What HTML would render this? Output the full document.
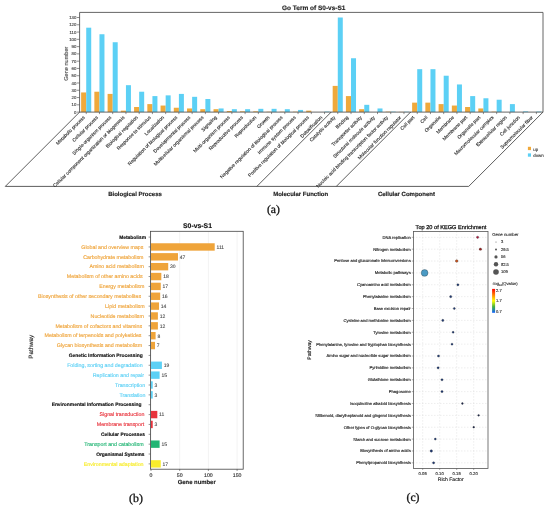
<!DOCTYPE html>
<html><head><meta charset="utf-8"><style>
html,body{margin:0;padding:0;background:#fff;}
svg{display:block;will-change:transform;text-rendering:geometricPrecision;font-family:"Liberation Sans",sans-serif;}
</style></head><body>
<svg width="550" height="507" viewBox="0 0 550 507">
<rect width="550" height="507" fill="#fff"/>
<text x="313.7" y="9.9" font-size="6.5" font-weight="bold" text-anchor="middle" fill="#222" stroke="#222" stroke-width="0.14">Go Term of S0-vs-S1</text>
<rect x="81.12" y="92.45" width="5.1" height="19.65" fill="#F0A93B"/>
<rect x="86.22" y="27.69" width="5.0" height="84.41" fill="#5CD0F5"/>
<rect x="94.36" y="91.72" width="5.1" height="20.38" fill="#F0A93B"/>
<rect x="99.46" y="34.24" width="5.0" height="77.86" fill="#5CD0F5"/>
<rect x="107.60" y="93.91" width="5.1" height="18.19" fill="#F0A93B"/>
<rect x="112.70" y="42.24" width="5.0" height="69.86" fill="#5CD0F5"/>
<rect x="120.84" y="110.64" width="5.1" height="1.46" fill="#F0A93B"/>
<rect x="125.94" y="85.18" width="5.0" height="26.92" fill="#5CD0F5"/>
<rect x="134.08" y="107.01" width="5.1" height="5.09" fill="#F0A93B"/>
<rect x="139.18" y="91.72" width="5.0" height="20.38" fill="#5CD0F5"/>
<rect x="147.32" y="104.10" width="5.1" height="8.00" fill="#F0A93B"/>
<rect x="152.42" y="96.09" width="5.0" height="16.01" fill="#5CD0F5"/>
<rect x="160.56" y="105.55" width="5.1" height="6.55" fill="#F0A93B"/>
<rect x="165.66" y="95.36" width="5.0" height="16.74" fill="#5CD0F5"/>
<rect x="173.80" y="107.73" width="5.1" height="4.37" fill="#F0A93B"/>
<rect x="178.90" y="93.91" width="5.0" height="18.19" fill="#5CD0F5"/>
<rect x="187.04" y="108.46" width="5.1" height="3.64" fill="#F0A93B"/>
<rect x="192.14" y="96.82" width="5.0" height="15.28" fill="#5CD0F5"/>
<rect x="200.28" y="109.19" width="5.1" height="2.91" fill="#F0A93B"/>
<rect x="205.38" y="99.00" width="5.0" height="13.10" fill="#5CD0F5"/>
<rect x="213.52" y="109.19" width="5.1" height="2.91" fill="#F0A93B"/>
<rect x="218.62" y="108.46" width="5.0" height="3.64" fill="#5CD0F5"/>
<rect x="226.76" y="111.01" width="5.1" height="1.09" fill="#F0A93B"/>
<rect x="231.86" y="109.19" width="5.0" height="2.91" fill="#5CD0F5"/>
<rect x="240.00" y="111.37" width="5.1" height="0.73" fill="#F0A93B"/>
<rect x="245.10" y="109.19" width="5.0" height="2.91" fill="#5CD0F5"/>
<rect x="253.24" y="111.37" width="5.1" height="0.73" fill="#F0A93B"/>
<rect x="258.34" y="108.83" width="5.0" height="3.27" fill="#5CD0F5"/>
<rect x="266.48" y="111.74" width="5.1" height="0.36" fill="#F0A93B"/>
<rect x="271.58" y="108.83" width="5.0" height="3.27" fill="#5CD0F5"/>
<rect x="279.72" y="111.74" width="5.1" height="0.36" fill="#F0A93B"/>
<rect x="284.82" y="109.19" width="5.0" height="2.91" fill="#5CD0F5"/>
<rect x="292.96" y="111.74" width="5.1" height="0.36" fill="#F0A93B"/>
<rect x="298.06" y="109.92" width="5.0" height="2.18" fill="#5CD0F5"/>
<rect x="306.20" y="110.64" width="5.1" height="1.46" fill="#F0A93B"/>
<rect x="324.54" y="111.59" width="5.0" height="0.51" fill="#5CD0F5"/>
<rect x="332.68" y="85.90" width="5.1" height="26.20" fill="#F0A93B"/>
<rect x="337.78" y="17.50" width="5.0" height="94.60" fill="#5CD0F5"/>
<rect x="345.92" y="96.09" width="5.1" height="16.01" fill="#F0A93B"/>
<rect x="351.02" y="58.25" width="5.0" height="53.85" fill="#5CD0F5"/>
<rect x="359.16" y="109.19" width="5.1" height="2.91" fill="#F0A93B"/>
<rect x="364.26" y="104.82" width="5.0" height="7.28" fill="#5CD0F5"/>
<rect x="377.50" y="108.46" width="5.0" height="3.64" fill="#5CD0F5"/>
<rect x="385.64" y="111.66" width="5.1" height="0.44" fill="#F0A93B"/>
<rect x="390.74" y="111.66" width="5.0" height="0.44" fill="#5CD0F5"/>
<rect x="398.88" y="111.88" width="5.1" height="0.22" fill="#F0A93B"/>
<rect x="403.98" y="111.74" width="5.0" height="0.36" fill="#5CD0F5"/>
<rect x="412.12" y="102.64" width="5.1" height="9.46" fill="#F0A93B"/>
<rect x="417.22" y="69.17" width="5.0" height="42.93" fill="#5CD0F5"/>
<rect x="425.36" y="102.64" width="5.1" height="9.46" fill="#F0A93B"/>
<rect x="430.46" y="69.17" width="5.0" height="42.93" fill="#5CD0F5"/>
<rect x="438.60" y="104.10" width="5.1" height="8.00" fill="#F0A93B"/>
<rect x="443.70" y="75.72" width="5.0" height="36.38" fill="#5CD0F5"/>
<rect x="451.84" y="105.55" width="5.1" height="6.55" fill="#F0A93B"/>
<rect x="456.94" y="84.45" width="5.0" height="27.65" fill="#5CD0F5"/>
<rect x="465.08" y="107.01" width="5.1" height="5.09" fill="#F0A93B"/>
<rect x="470.18" y="96.09" width="5.0" height="16.01" fill="#5CD0F5"/>
<rect x="478.32" y="108.46" width="5.1" height="3.64" fill="#F0A93B"/>
<rect x="483.42" y="98.27" width="5.0" height="13.83" fill="#5CD0F5"/>
<rect x="491.56" y="111.66" width="5.1" height="0.44" fill="#F0A93B"/>
<rect x="496.66" y="99.73" width="5.0" height="12.37" fill="#5CD0F5"/>
<rect x="509.90" y="104.10" width="5.0" height="8.00" fill="#5CD0F5"/>
<rect x="523.14" y="111.37" width="5.0" height="0.73" fill="#5CD0F5"/>
<rect x="536.38" y="111.59" width="5.0" height="0.51" fill="#5CD0F5"/>
<path d="M79.6,112.1 V12.4 H543 V112.1 Z" fill="none" stroke="#555" stroke-width="0.9"/>
<line x1="77" y1="112.10" x2="79.6" y2="112.10" stroke="#444" stroke-width="0.6"/>
<text x="76.4" y="113.65" font-size="4.3" text-anchor="end" fill="#444" stroke="#444" stroke-width="0.14">0</text>
<line x1="77" y1="104.82" x2="79.6" y2="104.82" stroke="#444" stroke-width="0.6"/>
<text x="76.4" y="106.37" font-size="4.3" text-anchor="end" fill="#444" stroke="#444" stroke-width="0.14">10</text>
<line x1="77" y1="97.55" x2="79.6" y2="97.55" stroke="#444" stroke-width="0.6"/>
<text x="76.4" y="99.10" font-size="4.3" text-anchor="end" fill="#444" stroke="#444" stroke-width="0.14">20</text>
<line x1="77" y1="90.27" x2="79.6" y2="90.27" stroke="#444" stroke-width="0.6"/>
<text x="76.4" y="91.82" font-size="4.3" text-anchor="end" fill="#444" stroke="#444" stroke-width="0.14">30</text>
<line x1="77" y1="82.99" x2="79.6" y2="82.99" stroke="#444" stroke-width="0.6"/>
<text x="76.4" y="84.54" font-size="4.3" text-anchor="end" fill="#444" stroke="#444" stroke-width="0.14">40</text>
<line x1="77" y1="75.72" x2="79.6" y2="75.72" stroke="#444" stroke-width="0.6"/>
<text x="76.4" y="77.27" font-size="4.3" text-anchor="end" fill="#444" stroke="#444" stroke-width="0.14">50</text>
<line x1="77" y1="68.44" x2="79.6" y2="68.44" stroke="#444" stroke-width="0.6"/>
<text x="76.4" y="69.99" font-size="4.3" text-anchor="end" fill="#444" stroke="#444" stroke-width="0.14">60</text>
<line x1="77" y1="61.16" x2="79.6" y2="61.16" stroke="#444" stroke-width="0.6"/>
<text x="76.4" y="62.71" font-size="4.3" text-anchor="end" fill="#444" stroke="#444" stroke-width="0.14">70</text>
<line x1="77" y1="53.88" x2="79.6" y2="53.88" stroke="#444" stroke-width="0.6"/>
<text x="76.4" y="55.43" font-size="4.3" text-anchor="end" fill="#444" stroke="#444" stroke-width="0.14">80</text>
<line x1="77" y1="46.61" x2="79.6" y2="46.61" stroke="#444" stroke-width="0.6"/>
<text x="76.4" y="48.16" font-size="4.3" text-anchor="end" fill="#444" stroke="#444" stroke-width="0.14">90</text>
<line x1="77" y1="39.33" x2="79.6" y2="39.33" stroke="#444" stroke-width="0.6"/>
<text x="76.4" y="40.88" font-size="4.3" text-anchor="end" fill="#444" stroke="#444" stroke-width="0.14">100</text>
<line x1="77" y1="32.05" x2="79.6" y2="32.05" stroke="#444" stroke-width="0.6"/>
<text x="76.4" y="33.60" font-size="4.3" text-anchor="end" fill="#444" stroke="#444" stroke-width="0.14">110</text>
<line x1="77" y1="24.78" x2="79.6" y2="24.78" stroke="#444" stroke-width="0.6"/>
<text x="76.4" y="26.33" font-size="4.3" text-anchor="end" fill="#444" stroke="#444" stroke-width="0.14">120</text>
<line x1="77" y1="17.50" x2="79.6" y2="17.50" stroke="#444" stroke-width="0.6"/>
<text x="76.4" y="19.05" font-size="4.3" text-anchor="end" fill="#444" stroke="#444" stroke-width="0.14">130</text>
<text transform="translate(68.3,63.7) rotate(-90)" font-size="5.6" text-anchor="middle" fill="#555" stroke="#555" stroke-width="0.14">Gene number</text>
<line x1="86.22" y1="112.1" x2="86.22" y2="114.1" stroke="#444" stroke-width="0.6"/>
<text transform="translate(85.32,117.80) rotate(-45)" font-size="4.8" text-anchor="end" fill="#333" stroke="#333" stroke-width="0.14">Metabolic process</text>
<line x1="99.46" y1="112.1" x2="99.46" y2="114.1" stroke="#444" stroke-width="0.6"/>
<text transform="translate(98.50,117.80) rotate(-45)" font-size="4.8" text-anchor="end" fill="#333" stroke="#333" stroke-width="0.14">Cellular process</text>
<line x1="112.70" y1="112.1" x2="112.70" y2="114.1" stroke="#444" stroke-width="0.6"/>
<text transform="translate(111.68,117.80) rotate(-45)" font-size="4.8" text-anchor="end" fill="#333" stroke="#333" stroke-width="0.14">Single-organism process</text>
<line x1="125.94" y1="112.1" x2="125.94" y2="114.1" stroke="#444" stroke-width="0.6"/>
<text transform="translate(124.86,117.80) rotate(-45)" font-size="4.8" text-anchor="end" fill="#333" stroke="#333" stroke-width="0.14">Cellular component organization or biogenesis</text>
<line x1="139.18" y1="112.1" x2="139.18" y2="114.1" stroke="#444" stroke-width="0.6"/>
<text transform="translate(138.04,117.80) rotate(-45)" font-size="4.8" text-anchor="end" fill="#333" stroke="#333" stroke-width="0.14">Biological regulation</text>
<line x1="152.42" y1="112.1" x2="152.42" y2="114.1" stroke="#444" stroke-width="0.6"/>
<text transform="translate(151.22,117.80) rotate(-45)" font-size="4.8" text-anchor="end" fill="#333" stroke="#333" stroke-width="0.14">Response to stimulus</text>
<line x1="165.66" y1="112.1" x2="165.66" y2="114.1" stroke="#444" stroke-width="0.6"/>
<text transform="translate(164.40,117.80) rotate(-45)" font-size="4.8" text-anchor="end" fill="#333" stroke="#333" stroke-width="0.14">Localization</text>
<line x1="178.90" y1="112.1" x2="178.90" y2="114.1" stroke="#444" stroke-width="0.6"/>
<text transform="translate(177.58,117.80) rotate(-45)" font-size="4.8" text-anchor="end" fill="#333" stroke="#333" stroke-width="0.14">Regulation of biological process</text>
<line x1="192.14" y1="112.1" x2="192.14" y2="114.1" stroke="#444" stroke-width="0.6"/>
<text transform="translate(190.76,117.80) rotate(-45)" font-size="4.8" text-anchor="end" fill="#333" stroke="#333" stroke-width="0.14">Developmental process</text>
<line x1="205.38" y1="112.1" x2="205.38" y2="114.1" stroke="#444" stroke-width="0.6"/>
<text transform="translate(203.94,117.80) rotate(-45)" font-size="4.8" text-anchor="end" fill="#333" stroke="#333" stroke-width="0.14">Multicellular organismal process</text>
<line x1="218.62" y1="112.1" x2="218.62" y2="114.1" stroke="#444" stroke-width="0.6"/>
<text transform="translate(217.12,117.80) rotate(-45)" font-size="4.8" text-anchor="end" fill="#333" stroke="#333" stroke-width="0.14">Signaling</text>
<line x1="231.86" y1="112.1" x2="231.86" y2="114.1" stroke="#444" stroke-width="0.6"/>
<text transform="translate(230.30,117.80) rotate(-45)" font-size="4.8" text-anchor="end" fill="#333" stroke="#333" stroke-width="0.14">Multi-organism process</text>
<line x1="245.10" y1="112.1" x2="245.10" y2="114.1" stroke="#444" stroke-width="0.6"/>
<text transform="translate(243.48,117.80) rotate(-45)" font-size="4.8" text-anchor="end" fill="#333" stroke="#333" stroke-width="0.14">Reproductive process</text>
<line x1="258.34" y1="112.1" x2="258.34" y2="114.1" stroke="#444" stroke-width="0.6"/>
<text transform="translate(256.66,117.80) rotate(-45)" font-size="4.8" text-anchor="end" fill="#333" stroke="#333" stroke-width="0.14">Reproduction</text>
<line x1="271.58" y1="112.1" x2="271.58" y2="114.1" stroke="#444" stroke-width="0.6"/>
<text transform="translate(269.84,117.80) rotate(-45)" font-size="4.8" text-anchor="end" fill="#333" stroke="#333" stroke-width="0.14">Growth</text>
<line x1="284.82" y1="112.1" x2="284.82" y2="114.1" stroke="#444" stroke-width="0.6"/>
<text transform="translate(283.02,117.80) rotate(-45)" font-size="4.8" text-anchor="end" fill="#333" stroke="#333" stroke-width="0.14">Negative regulation of biological process</text>
<line x1="298.06" y1="112.1" x2="298.06" y2="114.1" stroke="#444" stroke-width="0.6"/>
<text transform="translate(296.20,117.80) rotate(-45)" font-size="4.8" text-anchor="end" fill="#333" stroke="#333" stroke-width="0.14">Immune system process</text>
<line x1="311.30" y1="112.1" x2="311.30" y2="114.1" stroke="#444" stroke-width="0.6"/>
<text transform="translate(309.38,117.80) rotate(-45)" font-size="4.8" text-anchor="end" fill="#333" stroke="#333" stroke-width="0.14">Positive regulation of biological process</text>
<line x1="324.54" y1="112.1" x2="324.54" y2="114.1" stroke="#444" stroke-width="0.6"/>
<text transform="translate(322.56,117.80) rotate(-45)" font-size="4.8" text-anchor="end" fill="#333" stroke="#333" stroke-width="0.14">Detoxification</text>
<line x1="337.78" y1="112.1" x2="337.78" y2="114.1" stroke="#444" stroke-width="0.6"/>
<text transform="translate(335.74,117.80) rotate(-45)" font-size="4.8" text-anchor="end" fill="#333" stroke="#333" stroke-width="0.14">Catalytic activity</text>
<line x1="351.02" y1="112.1" x2="351.02" y2="114.1" stroke="#444" stroke-width="0.6"/>
<text transform="translate(348.92,117.80) rotate(-45)" font-size="4.8" text-anchor="end" fill="#333" stroke="#333" stroke-width="0.14">Binding</text>
<line x1="364.26" y1="112.1" x2="364.26" y2="114.1" stroke="#444" stroke-width="0.6"/>
<text transform="translate(362.10,117.80) rotate(-45)" font-size="4.8" text-anchor="end" fill="#333" stroke="#333" stroke-width="0.14">Transporter activity</text>
<line x1="377.50" y1="112.1" x2="377.50" y2="114.1" stroke="#444" stroke-width="0.6"/>
<text transform="translate(375.28,117.80) rotate(-45)" font-size="4.8" text-anchor="end" fill="#333" stroke="#333" stroke-width="0.14">Structural molecule activity</text>
<line x1="390.74" y1="112.1" x2="390.74" y2="114.1" stroke="#444" stroke-width="0.6"/>
<text transform="translate(388.46,117.80) rotate(-45)" font-size="4.8" text-anchor="end" fill="#333" stroke="#333" stroke-width="0.14">Nucleic acid binding transcription factor activity</text>
<line x1="403.98" y1="112.1" x2="403.98" y2="114.1" stroke="#444" stroke-width="0.6"/>
<text transform="translate(401.64,117.80) rotate(-45)" font-size="4.8" text-anchor="end" fill="#333" stroke="#333" stroke-width="0.14">Molecular function regulator</text>
<line x1="417.22" y1="112.1" x2="417.22" y2="114.1" stroke="#444" stroke-width="0.6"/>
<text transform="translate(414.82,117.80) rotate(-45)" font-size="4.8" text-anchor="end" fill="#333" stroke="#333" stroke-width="0.14">Cell part</text>
<line x1="430.46" y1="112.1" x2="430.46" y2="114.1" stroke="#444" stroke-width="0.6"/>
<text transform="translate(428.00,117.80) rotate(-45)" font-size="4.8" text-anchor="end" fill="#333" stroke="#333" stroke-width="0.14">Cell</text>
<line x1="443.70" y1="112.1" x2="443.70" y2="114.1" stroke="#444" stroke-width="0.6"/>
<text transform="translate(441.18,117.80) rotate(-45)" font-size="4.8" text-anchor="end" fill="#333" stroke="#333" stroke-width="0.14">Organelle</text>
<line x1="456.94" y1="112.1" x2="456.94" y2="114.1" stroke="#444" stroke-width="0.6"/>
<text transform="translate(454.36,117.80) rotate(-45)" font-size="4.8" text-anchor="end" fill="#333" stroke="#333" stroke-width="0.14">Membrane</text>
<line x1="470.18" y1="112.1" x2="470.18" y2="114.1" stroke="#444" stroke-width="0.6"/>
<text transform="translate(467.54,117.80) rotate(-45)" font-size="4.8" text-anchor="end" fill="#333" stroke="#333" stroke-width="0.14">Membrane part</text>
<line x1="483.42" y1="112.1" x2="483.42" y2="114.1" stroke="#444" stroke-width="0.6"/>
<text transform="translate(480.72,117.80) rotate(-45)" font-size="4.8" text-anchor="end" fill="#333" stroke="#333" stroke-width="0.14">Organelle part</text>
<line x1="496.66" y1="112.1" x2="496.66" y2="114.1" stroke="#444" stroke-width="0.6"/>
<text transform="translate(493.90,117.80) rotate(-45)" font-size="4.8" text-anchor="end" fill="#333" stroke="#333" stroke-width="0.14">Macromolecular complex</text>
<line x1="509.90" y1="112.1" x2="509.90" y2="114.1" stroke="#444" stroke-width="0.6"/>
<text transform="translate(507.08,117.80) rotate(-45)" font-size="4.8" text-anchor="end" fill="#333" stroke="#333" stroke-width="0.14">Extracellular region</text>
<line x1="523.14" y1="112.1" x2="523.14" y2="114.1" stroke="#444" stroke-width="0.6"/>
<text transform="translate(520.26,117.80) rotate(-45)" font-size="4.8" text-anchor="end" fill="#333" stroke="#333" stroke-width="0.14">Cell junction</text>
<line x1="536.38" y1="112.1" x2="536.38" y2="114.1" stroke="#444" stroke-width="0.6"/>
<text transform="translate(533.44,117.80) rotate(-45)" font-size="4.8" text-anchor="end" fill="#333" stroke="#333" stroke-width="0.14">Supramolecular fiber</text>
<line x1="79.60" y1="112.1" x2="5.30" y2="186.4" stroke="#333" stroke-width="0.8"/>
<line x1="331.16" y1="112.1" x2="256.86" y2="186.4" stroke="#333" stroke-width="0.8"/>
<line x1="410.60" y1="112.1" x2="336.30" y2="186.4" stroke="#333" stroke-width="0.8"/>
<line x1="543.00" y1="112.1" x2="468.70" y2="186.4" stroke="#333" stroke-width="0.8"/>
<line x1="5.30" y1="186.4" x2="468.70" y2="186.4" stroke="#333" stroke-width="0.8"/>
<text x="135" y="196" font-size="6.0" font-weight="bold" text-anchor="middle" fill="#222" stroke="#222" stroke-width="0.14">Biological Process</text>
<text x="300.7" y="196" font-size="6.0" font-weight="bold" text-anchor="middle" fill="#222" stroke="#222" stroke-width="0.14">Molecular Function</text>
<text x="406.4" y="196" font-size="6.0" font-weight="bold" text-anchor="middle" fill="#222" stroke="#222" stroke-width="0.14">Cellular Component</text>
<rect x="527.9" y="146.8" width="3.1" height="3.3" fill="#F0A93B"/>
<text x="533.2" y="150.7" font-size="4.4" fill="#444" stroke="#444" stroke-width="0.14">up</text>
<rect x="527.9" y="153.4" width="3.1" height="3.3" fill="#5CD0F5"/>
<text x="533.2" y="156.9" font-size="4.4" fill="#444" stroke="#444" stroke-width="0.14">down</text>
<text x="273.4" y="213.1" font-size="11.6" font-family="Liberation Serif, serif" text-anchor="middle" fill="#111" stroke="#111" stroke-width="0.3">(a)</text>
<text x="197.5" y="227.6" font-size="6.85" font-weight="bold" text-anchor="middle" fill="#111" stroke="#111" stroke-width="0.14">S0-vs-S1</text>
<line x1="151.00" y1="231.3" x2="151.00" y2="469.2" stroke="#E6E6E6" stroke-width="0.5"/>
<line x1="179.70" y1="231.3" x2="179.70" y2="469.2" stroke="#E6E6E6" stroke-width="0.5"/>
<line x1="208.40" y1="231.3" x2="208.40" y2="469.2" stroke="#E6E6E6" stroke-width="0.5"/>
<line x1="237.10" y1="231.3" x2="237.10" y2="469.2" stroke="#E6E6E6" stroke-width="0.5"/>
<line x1="148.6" y1="237.10" x2="150.4" y2="237.10" stroke="#333" stroke-width="0.5"/>
<text x="119.14" y="238.85" font-size="4.9" font-weight="bold" fill="#111" stroke="#111" stroke-width="0.14">Metabolism</text>
<rect x="151.0" y="243.26" width="63.71" height="7.4" fill="#EFA43A"/>
<text class="n" x="216.51" y="248.76" font-size="5.0" fill="#333" stroke="#333" stroke-width="0.05">111</text>
<line x1="148.6" y1="246.96" x2="150.4" y2="246.96" stroke="#333" stroke-width="0.5"/>
<text x="81.35" y="248.71" font-size="5.28" fill="#EFA43A" stroke="#EFA43A" stroke-width="0.14">Global and overview maps</text>
<rect x="151.0" y="253.12" width="26.98" height="7.4" fill="#EFA43A"/>
<text class="n" x="179.78" y="258.62" font-size="5.0" fill="#333" stroke="#333" stroke-width="0.05">47</text>
<line x1="148.6" y1="256.82" x2="150.4" y2="256.82" stroke="#333" stroke-width="0.5"/>
<text x="83.20" y="258.57" font-size="5.28" fill="#EFA43A" stroke="#EFA43A" stroke-width="0.14">Carbohydrate metabolism</text>
<rect x="151.0" y="262.98" width="17.22" height="7.4" fill="#EFA43A"/>
<text class="n" x="170.02" y="268.48" font-size="5.0" fill="#333" stroke="#333" stroke-width="0.05">30</text>
<line x1="148.6" y1="266.68" x2="150.4" y2="266.68" stroke="#333" stroke-width="0.5"/>
<text x="89.38" y="268.43" font-size="5.28" fill="#EFA43A" stroke="#EFA43A" stroke-width="0.14">Amino acid metabolism</text>
<rect x="151.0" y="272.84" width="10.33" height="7.4" fill="#EFA43A"/>
<text class="n" x="163.13" y="278.34" font-size="5.0" fill="#333" stroke="#333" stroke-width="0.05">18</text>
<line x1="148.6" y1="276.54" x2="150.4" y2="276.54" stroke="#333" stroke-width="0.5"/>
<text x="66.84" y="278.29" font-size="5.28" fill="#EFA43A" stroke="#EFA43A" stroke-width="0.14">Metabolism of other amino acids</text>
<rect x="151.0" y="282.70" width="9.76" height="7.4" fill="#EFA43A"/>
<text class="n" x="162.56" y="288.20" font-size="5.0" fill="#333" stroke="#333" stroke-width="0.05">17</text>
<line x1="148.6" y1="286.40" x2="150.4" y2="286.40" stroke="#333" stroke-width="0.5"/>
<text x="99.26" y="288.15" font-size="5.28" fill="#EFA43A" stroke="#EFA43A" stroke-width="0.14">Energy metabolism</text>
<rect x="151.0" y="292.56" width="9.18" height="7.4" fill="#EFA43A"/>
<text class="n" x="161.98" y="298.06" font-size="5.0" fill="#333" stroke="#333" stroke-width="0.05">16</text>
<line x1="148.6" y1="296.26" x2="150.4" y2="296.26" stroke="#333" stroke-width="0.5"/>
<text x="38.12" y="298.01" font-size="5.28" fill="#EFA43A" stroke="#EFA43A" stroke-width="0.14">Biosynthesis of other secondary metabolites</text>
<rect x="151.0" y="302.42" width="8.04" height="7.4" fill="#EFA43A"/>
<text class="n" x="160.84" y="307.92" font-size="5.0" fill="#333" stroke="#333" stroke-width="0.05">14</text>
<line x1="148.6" y1="306.12" x2="150.4" y2="306.12" stroke="#333" stroke-width="0.5"/>
<text x="105.12" y="307.87" font-size="5.28" fill="#EFA43A" stroke="#EFA43A" stroke-width="0.14">Lipid metabolism</text>
<rect x="151.0" y="312.28" width="6.89" height="7.4" fill="#EFA43A"/>
<text class="n" x="159.69" y="317.78" font-size="5.0" fill="#333" stroke="#333" stroke-width="0.05">12</text>
<line x1="148.6" y1="315.98" x2="150.4" y2="315.98" stroke="#333" stroke-width="0.5"/>
<text x="90.61" y="317.73" font-size="5.28" fill="#EFA43A" stroke="#EFA43A" stroke-width="0.14">Nucleotide metabolism</text>
<rect x="151.0" y="322.14" width="6.89" height="7.4" fill="#EFA43A"/>
<text class="n" x="159.69" y="327.64" font-size="5.0" fill="#333" stroke="#333" stroke-width="0.05">12</text>
<line x1="148.6" y1="325.84" x2="150.4" y2="325.84" stroke="#333" stroke-width="0.5"/>
<text x="55.42" y="327.59" font-size="5.28" fill="#EFA43A" stroke="#EFA43A" stroke-width="0.14">Metabolism of cofactors and vitamins</text>
<rect x="151.0" y="332.00" width="4.59" height="7.4" fill="#EFA43A"/>
<text class="n" x="157.39" y="337.50" font-size="5.0" fill="#333" stroke="#333" stroke-width="0.05">8</text>
<line x1="148.6" y1="335.70" x2="150.4" y2="335.70" stroke="#333" stroke-width="0.5"/>
<text x="44.60" y="337.45" font-size="5.28" fill="#EFA43A" stroke="#EFA43A" stroke-width="0.14">Metabolism of terpenoids and polyketides</text>
<rect x="151.0" y="341.86" width="4.02" height="7.4" fill="#EFA43A"/>
<text class="n" x="156.82" y="347.36" font-size="5.0" fill="#333" stroke="#333" stroke-width="0.05">7</text>
<line x1="148.6" y1="345.56" x2="150.4" y2="345.56" stroke="#333" stroke-width="0.5"/>
<text x="56.65" y="347.31" font-size="5.28" fill="#EFA43A" stroke="#EFA43A" stroke-width="0.14">Glycan biosynthesis and metabolism</text>
<line x1="148.6" y1="355.42" x2="150.4" y2="355.42" stroke="#333" stroke-width="0.5"/>
<text x="68.80" y="357.17" font-size="4.9" font-weight="bold" fill="#111" stroke="#111" stroke-width="0.14">Genetic Information Processing</text>
<rect x="151.0" y="361.58" width="10.91" height="7.4" fill="#5CD0F5"/>
<text class="n" x="163.71" y="367.08" font-size="5.0" fill="#333" stroke="#333" stroke-width="0.05">19</text>
<line x1="148.6" y1="365.28" x2="150.4" y2="365.28" stroke="#333" stroke-width="0.5"/>
<text x="67.13" y="367.03" font-size="5.28" fill="#5CD0F5" stroke="#5CD0F5" stroke-width="0.14">Folding, sorting and degradation</text>
<rect x="151.0" y="371.44" width="8.61" height="7.4" fill="#5CD0F5"/>
<text class="n" x="161.41" y="376.94" font-size="5.0" fill="#333" stroke="#333" stroke-width="0.05">15</text>
<line x1="148.6" y1="375.14" x2="150.4" y2="375.14" stroke="#333" stroke-width="0.5"/>
<text x="92.76" y="376.89" font-size="5.28" fill="#5CD0F5" stroke="#5CD0F5" stroke-width="0.14">Replication and repair</text>
<rect x="151.0" y="381.30" width="1.72" height="7.4" fill="#5CD0F5"/>
<text class="n" x="154.52" y="386.80" font-size="5.0" fill="#333" stroke="#333" stroke-width="0.05">3</text>
<line x1="148.6" y1="385.00" x2="150.4" y2="385.00" stroke="#333" stroke-width="0.5"/>
<text x="114.90" y="386.75" font-size="5.28" fill="#5CD0F5" stroke="#5CD0F5" stroke-width="0.14">Transcription</text>
<rect x="151.0" y="391.16" width="1.72" height="7.4" fill="#5CD0F5"/>
<text class="n" x="154.52" y="396.66" font-size="5.0" fill="#333" stroke="#333" stroke-width="0.05">3</text>
<line x1="148.6" y1="394.86" x2="150.4" y2="394.86" stroke="#333" stroke-width="0.5"/>
<text x="119.53" y="396.61" font-size="5.28" fill="#5CD0F5" stroke="#5CD0F5" stroke-width="0.14">Translation</text>
<line x1="148.6" y1="404.72" x2="150.4" y2="404.72" stroke="#333" stroke-width="0.5"/>
<text x="51.64" y="406.47" font-size="4.9" font-weight="bold" fill="#111" stroke="#111" stroke-width="0.14">Environmental Information Processing</text>
<rect x="151.0" y="410.88" width="6.31" height="7.4" fill="#E8333C"/>
<text class="n" x="159.11" y="416.38" font-size="5.0" fill="#333" stroke="#333" stroke-width="0.05">11</text>
<line x1="148.6" y1="414.58" x2="150.4" y2="414.58" stroke="#333" stroke-width="0.5"/>
<text x="99.56" y="416.33" font-size="5.28" fill="#E8333C" stroke="#E8333C" stroke-width="0.14">Signal transduction</text>
<rect x="151.0" y="420.74" width="1.72" height="7.4" fill="#E8333C"/>
<text class="n" x="154.52" y="426.24" font-size="5.0" fill="#333" stroke="#333" stroke-width="0.05">3</text>
<line x1="148.6" y1="424.44" x2="150.4" y2="424.44" stroke="#333" stroke-width="0.5"/>
<text x="96.79" y="426.19" font-size="5.28" fill="#E8333C" stroke="#E8333C" stroke-width="0.14">Membrane transport</text>
<line x1="148.6" y1="434.30" x2="150.4" y2="434.30" stroke="#333" stroke-width="0.5"/>
<text x="101.08" y="436.05" font-size="4.9" font-weight="bold" fill="#111" stroke="#111" stroke-width="0.14">Cellular Processes</text>
<rect x="151.0" y="440.46" width="8.61" height="7.4" fill="#22B574"/>
<text class="n" x="161.41" y="445.96" font-size="5.0" fill="#333" stroke="#333" stroke-width="0.05">15</text>
<line x1="148.6" y1="444.16" x2="150.4" y2="444.16" stroke="#333" stroke-width="0.5"/>
<text x="84.33" y="445.91" font-size="5.28" fill="#22B574" stroke="#22B574" stroke-width="0.14">Transport and catabolism</text>
<line x1="148.6" y1="454.02" x2="150.4" y2="454.02" stroke="#333" stroke-width="0.5"/>
<text x="96.14" y="455.77" font-size="4.9" font-weight="bold" fill="#111" stroke="#111" stroke-width="0.14">Organismal Systems</text>
<rect x="151.0" y="460.18" width="9.76" height="7.4" fill="#F8EC2C"/>
<text class="n" x="162.56" y="465.68" font-size="5.0" fill="#333" stroke="#333" stroke-width="0.05">17</text>
<line x1="148.6" y1="463.88" x2="150.4" y2="463.88" stroke="#333" stroke-width="0.5"/>
<text x="83.81" y="465.63" font-size="5.28" fill="#F8EC2C" stroke="#F8EC2C" stroke-width="0.14">Environmental adaptation</text>
<rect x="150.4" y="231.3" width="92.8" height="237.9" fill="none" stroke="#444" stroke-width="0.8"/>
<line x1="151.00" y1="469.2" x2="151.00" y2="471" stroke="#333" stroke-width="0.5"/>
<text x="151.00" y="477.4" font-size="5.2" text-anchor="middle" fill="#333" stroke="#333" stroke-width="0.14">0</text>
<line x1="179.70" y1="469.2" x2="179.70" y2="471" stroke="#333" stroke-width="0.5"/>
<text x="179.70" y="477.4" font-size="5.2" text-anchor="middle" fill="#333" stroke="#333" stroke-width="0.14">50</text>
<line x1="208.40" y1="469.2" x2="208.40" y2="471" stroke="#333" stroke-width="0.5"/>
<text x="208.40" y="477.4" font-size="5.2" text-anchor="middle" fill="#333" stroke="#333" stroke-width="0.14">100</text>
<line x1="237.10" y1="469.2" x2="237.10" y2="471" stroke="#333" stroke-width="0.5"/>
<text x="237.10" y="477.4" font-size="5.2" text-anchor="middle" fill="#333" stroke="#333" stroke-width="0.14">150</text>
<text x="196.7" y="483.6" font-size="5.9" font-weight="bold" text-anchor="middle" fill="#222" stroke="#222" stroke-width="0.14">Gene number</text>
<text transform="translate(33.2,346.8) rotate(-90)" font-size="6.2" text-anchor="middle" fill="#222" stroke="#222" stroke-width="0.14">Pathway</text>
<text x="136" y="501.8" font-size="11.8" font-family="Liberation Serif, serif" text-anchor="middle" fill="#111" stroke="#111" stroke-width="0.3">(b)</text>
<text class="m" x="451" y="228.9" font-size="5.62" text-anchor="middle" fill="#222" stroke="#222" stroke-width="0.28">Top 20 of KEGG Enrichment</text>
<line x1="422.70" y1="231.5" x2="422.70" y2="468.5" stroke="#C4C4C4" stroke-width="0.5" stroke-dasharray="0.9,2.1"/>
<line x1="439.70" y1="231.5" x2="439.70" y2="468.5" stroke="#C4C4C4" stroke-width="0.5" stroke-dasharray="0.9,2.1"/>
<line x1="456.70" y1="231.5" x2="456.70" y2="468.5" stroke="#C4C4C4" stroke-width="0.5" stroke-dasharray="0.9,2.1"/>
<line x1="473.70" y1="231.5" x2="473.70" y2="468.5" stroke="#C4C4C4" stroke-width="0.5" stroke-dasharray="0.9,2.1"/>
<line x1="413.4" y1="237.30" x2="488.0" y2="237.30" stroke="#C4C4C4" stroke-width="0.5" stroke-dasharray="0.9,2.1"/>
<line x1="413.4" y1="249.17" x2="488.0" y2="249.17" stroke="#C4C4C4" stroke-width="0.5" stroke-dasharray="0.9,2.1"/>
<line x1="413.4" y1="261.04" x2="488.0" y2="261.04" stroke="#C4C4C4" stroke-width="0.5" stroke-dasharray="0.9,2.1"/>
<line x1="413.4" y1="272.91" x2="488.0" y2="272.91" stroke="#C4C4C4" stroke-width="0.5" stroke-dasharray="0.9,2.1"/>
<line x1="413.4" y1="284.78" x2="488.0" y2="284.78" stroke="#C4C4C4" stroke-width="0.5" stroke-dasharray="0.9,2.1"/>
<line x1="413.4" y1="296.65" x2="488.0" y2="296.65" stroke="#C4C4C4" stroke-width="0.5" stroke-dasharray="0.9,2.1"/>
<line x1="413.4" y1="308.52" x2="488.0" y2="308.52" stroke="#C4C4C4" stroke-width="0.5" stroke-dasharray="0.9,2.1"/>
<line x1="413.4" y1="320.39" x2="488.0" y2="320.39" stroke="#C4C4C4" stroke-width="0.5" stroke-dasharray="0.9,2.1"/>
<line x1="413.4" y1="332.26" x2="488.0" y2="332.26" stroke="#C4C4C4" stroke-width="0.5" stroke-dasharray="0.9,2.1"/>
<line x1="413.4" y1="344.13" x2="488.0" y2="344.13" stroke="#C4C4C4" stroke-width="0.5" stroke-dasharray="0.9,2.1"/>
<line x1="413.4" y1="356.00" x2="488.0" y2="356.00" stroke="#C4C4C4" stroke-width="0.5" stroke-dasharray="0.9,2.1"/>
<line x1="413.4" y1="367.87" x2="488.0" y2="367.87" stroke="#C4C4C4" stroke-width="0.5" stroke-dasharray="0.9,2.1"/>
<line x1="413.4" y1="379.74" x2="488.0" y2="379.74" stroke="#C4C4C4" stroke-width="0.5" stroke-dasharray="0.9,2.1"/>
<line x1="413.4" y1="391.61" x2="488.0" y2="391.61" stroke="#C4C4C4" stroke-width="0.5" stroke-dasharray="0.9,2.1"/>
<line x1="413.4" y1="403.48" x2="488.0" y2="403.48" stroke="#C4C4C4" stroke-width="0.5" stroke-dasharray="0.9,2.1"/>
<line x1="413.4" y1="415.35" x2="488.0" y2="415.35" stroke="#C4C4C4" stroke-width="0.5" stroke-dasharray="0.9,2.1"/>
<line x1="413.4" y1="427.22" x2="488.0" y2="427.22" stroke="#C4C4C4" stroke-width="0.5" stroke-dasharray="0.9,2.1"/>
<line x1="413.4" y1="439.09" x2="488.0" y2="439.09" stroke="#C4C4C4" stroke-width="0.5" stroke-dasharray="0.9,2.1"/>
<line x1="413.4" y1="450.96" x2="488.0" y2="450.96" stroke="#C4C4C4" stroke-width="0.5" stroke-dasharray="0.9,2.1"/>
<line x1="413.4" y1="462.83" x2="488.0" y2="462.83" stroke="#C4C4C4" stroke-width="0.5" stroke-dasharray="0.9,2.1"/>
<line x1="411.8" y1="237.30" x2="413.4" y2="237.30" stroke="#333" stroke-width="0.4"/>
<text x="410.7" y="238.75" font-size="4.1" text-anchor="end" fill="#222" stroke="#222" stroke-width="0.14">DNA replication</text>
<circle cx="477.6" cy="237.30" r="1.15" fill="#B0103A" stroke="#222" stroke-width="0.3"/>
<line x1="411.8" y1="249.17" x2="413.4" y2="249.17" stroke="#333" stroke-width="0.4"/>
<text x="410.7" y="250.62" font-size="4.1" text-anchor="end" fill="#222" stroke="#222" stroke-width="0.14">Nitrogen metabolism</text>
<circle cx="480.4" cy="249.17" r="1.2" fill="#A0201E" stroke="#222" stroke-width="0.3"/>
<line x1="411.8" y1="261.04" x2="413.4" y2="261.04" stroke="#333" stroke-width="0.4"/>
<text x="410.7" y="262.49" font-size="4.1" text-anchor="end" fill="#222" stroke="#222" stroke-width="0.14">Pentose and glucuronate interconversions</text>
<circle cx="456.7" cy="261.04" r="1.3" fill="#D0541C" stroke="#222" stroke-width="0.3"/>
<line x1="411.8" y1="272.91" x2="413.4" y2="272.91" stroke="#333" stroke-width="0.4"/>
<text x="410.7" y="274.36" font-size="4.1" text-anchor="end" fill="#222" stroke="#222" stroke-width="0.14">Metabolic pathways</text>
<circle cx="424.6" cy="272.91" r="3.4" fill="#4A9AC4" stroke="#222" stroke-width="0.3"/>
<line x1="411.8" y1="284.78" x2="413.4" y2="284.78" stroke="#333" stroke-width="0.4"/>
<text x="410.7" y="286.23" font-size="4.1" text-anchor="end" fill="#222" stroke="#222" stroke-width="0.14">Cyanoamino acid metabolism</text>
<circle cx="457.9" cy="284.78" r="1.1" fill="#1E3A78" stroke="#222" stroke-width="0.3"/>
<line x1="411.8" y1="296.65" x2="413.4" y2="296.65" stroke="#333" stroke-width="0.4"/>
<text x="410.7" y="298.10" font-size="4.1" text-anchor="end" fill="#222" stroke="#222" stroke-width="0.14">Phenylalanine metabolism</text>
<circle cx="450.7" cy="296.65" r="1.1" fill="#1E3A78" stroke="#222" stroke-width="0.3"/>
<line x1="411.8" y1="308.52" x2="413.4" y2="308.52" stroke="#333" stroke-width="0.4"/>
<text x="410.7" y="309.97" font-size="4.1" text-anchor="end" fill="#222" stroke="#222" stroke-width="0.14">Base excision repair</text>
<circle cx="454.3" cy="308.52" r="1.0" fill="#1E3A78" stroke="#222" stroke-width="0.3"/>
<line x1="411.8" y1="320.39" x2="413.4" y2="320.39" stroke="#333" stroke-width="0.4"/>
<text x="410.7" y="321.84" font-size="4.1" text-anchor="end" fill="#222" stroke="#222" stroke-width="0.14">Cysteine and methionine metabolism</text>
<circle cx="442.8" cy="320.39" r="1.1" fill="#1E3A78" stroke="#222" stroke-width="0.3"/>
<line x1="411.8" y1="332.26" x2="413.4" y2="332.26" stroke="#333" stroke-width="0.4"/>
<text x="410.7" y="333.71" font-size="4.1" text-anchor="end" fill="#222" stroke="#222" stroke-width="0.14">Tyrosine metabolism</text>
<circle cx="453.1" cy="332.26" r="1.0" fill="#1E3A78" stroke="#222" stroke-width="0.3"/>
<line x1="411.8" y1="344.13" x2="413.4" y2="344.13" stroke="#333" stroke-width="0.4"/>
<text x="410.7" y="345.58" font-size="4.1" text-anchor="end" fill="#222" stroke="#222" stroke-width="0.14">Phenylalanine, tyrosine and tryptophan biosynthesis</text>
<circle cx="452.0" cy="344.13" r="1.0" fill="#1E3A78" stroke="#222" stroke-width="0.3"/>
<line x1="411.8" y1="356.00" x2="413.4" y2="356.00" stroke="#333" stroke-width="0.4"/>
<text x="410.7" y="357.45" font-size="4.1" text-anchor="end" fill="#222" stroke="#222" stroke-width="0.14">Amino sugar and nucleotide sugar metabolism</text>
<circle cx="438.5" cy="356.00" r="1.1" fill="#1E3A78" stroke="#222" stroke-width="0.3"/>
<line x1="411.8" y1="367.87" x2="413.4" y2="367.87" stroke="#333" stroke-width="0.4"/>
<text x="410.7" y="369.32" font-size="4.1" text-anchor="end" fill="#222" stroke="#222" stroke-width="0.14">Pyrimidine metabolism</text>
<circle cx="438.1" cy="367.87" r="1.1" fill="#1E3A78" stroke="#222" stroke-width="0.3"/>
<line x1="411.8" y1="379.74" x2="413.4" y2="379.74" stroke="#333" stroke-width="0.4"/>
<text x="410.7" y="381.19" font-size="4.1" text-anchor="end" fill="#222" stroke="#222" stroke-width="0.14">Glutathione metabolism</text>
<circle cx="442.0" cy="379.74" r="1.1" fill="#1E3A78" stroke="#222" stroke-width="0.3"/>
<line x1="411.8" y1="391.61" x2="413.4" y2="391.61" stroke="#333" stroke-width="0.4"/>
<text x="410.7" y="393.06" font-size="4.1" text-anchor="end" fill="#222" stroke="#222" stroke-width="0.14">Phagosome</text>
<circle cx="442.0" cy="391.61" r="1.1" fill="#1E3A78" stroke="#222" stroke-width="0.3"/>
<line x1="411.8" y1="403.48" x2="413.4" y2="403.48" stroke="#333" stroke-width="0.4"/>
<text x="410.7" y="404.93" font-size="4.1" text-anchor="end" fill="#222" stroke="#222" stroke-width="0.14">Isoquinoline alkaloid biosynthesis</text>
<circle cx="462.4" cy="403.48" r="0.9" fill="#1E2A50" stroke="#222" stroke-width="0.3"/>
<line x1="411.8" y1="415.35" x2="413.4" y2="415.35" stroke="#333" stroke-width="0.4"/>
<text x="410.7" y="416.80" font-size="4.1" text-anchor="end" fill="#222" stroke="#222" stroke-width="0.14">Stilbenoid, diarylheptanoid and gingerol biosynthesis</text>
<circle cx="478.6" cy="415.35" r="0.9" fill="#1E2A50" stroke="#222" stroke-width="0.3"/>
<line x1="411.8" y1="427.22" x2="413.4" y2="427.22" stroke="#333" stroke-width="0.4"/>
<text x="410.7" y="428.67" font-size="4.1" text-anchor="end" fill="#222" stroke="#222" stroke-width="0.14">Other types of O-glycan biosynthesis</text>
<circle cx="473.7" cy="427.22" r="0.9" fill="#1E2A50" stroke="#222" stroke-width="0.3"/>
<line x1="411.8" y1="439.09" x2="413.4" y2="439.09" stroke="#333" stroke-width="0.4"/>
<text x="410.7" y="440.54" font-size="4.1" text-anchor="end" fill="#222" stroke="#222" stroke-width="0.14">Starch and sucrose metabolism</text>
<circle cx="435.3" cy="439.09" r="1.0" fill="#1E3A78" stroke="#222" stroke-width="0.3"/>
<line x1="411.8" y1="450.96" x2="413.4" y2="450.96" stroke="#333" stroke-width="0.4"/>
<text x="410.7" y="452.41" font-size="4.1" text-anchor="end" fill="#222" stroke="#222" stroke-width="0.14">Biosynthesis of amino acids</text>
<circle cx="431.3" cy="450.96" r="1.2" fill="#1E3A78" stroke="#222" stroke-width="0.3"/>
<line x1="411.8" y1="462.83" x2="413.4" y2="462.83" stroke="#333" stroke-width="0.4"/>
<text x="410.7" y="464.28" font-size="4.1" text-anchor="end" fill="#222" stroke="#222" stroke-width="0.14">Phenylpropanoid biosynthesis</text>
<circle cx="433.6" cy="462.83" r="1.1" fill="#1E3A78" stroke="#222" stroke-width="0.3"/>
<rect x="413.4" y="231.5" width="74.60" height="237.00" fill="none" stroke="#555" stroke-width="0.8"/>
<line x1="422.70" y1="468.5" x2="422.70" y2="470.0" stroke="#333" stroke-width="0.4"/>
<text x="422.70" y="474.6" font-size="4.2" text-anchor="middle" fill="#333" stroke="#333" stroke-width="0.14">0.05</text>
<line x1="439.70" y1="468.5" x2="439.70" y2="470.0" stroke="#333" stroke-width="0.4"/>
<text x="439.70" y="474.6" font-size="4.2" text-anchor="middle" fill="#333" stroke="#333" stroke-width="0.14">0.10</text>
<line x1="456.70" y1="468.5" x2="456.70" y2="470.0" stroke="#333" stroke-width="0.4"/>
<text x="456.70" y="474.6" font-size="4.2" text-anchor="middle" fill="#333" stroke="#333" stroke-width="0.14">0.15</text>
<line x1="473.70" y1="468.5" x2="473.70" y2="470.0" stroke="#333" stroke-width="0.4"/>
<text x="473.70" y="474.6" font-size="4.2" text-anchor="middle" fill="#333" stroke="#333" stroke-width="0.14">0.20</text>
<text x="450.7" y="481" font-size="5.05" text-anchor="middle" fill="#222" stroke="#222" stroke-width="0.14">Rich Factor</text>
<text transform="translate(311.4,349.9) rotate(-90)" font-size="5.1" text-anchor="middle" fill="#222" stroke="#222" stroke-width="0.14">Pathway</text>
<text x="492.2" y="235.5" font-size="4.3" fill="#333" stroke="#333" stroke-width="0.14">Gene number</text>
<circle cx="496" cy="241.9" r="0.5" fill="#555"/>
<text x="500.9" y="243.3" font-size="4.1" fill="#333" stroke="#333" stroke-width="0.14">3</text>
<circle cx="496" cy="249.5" r="1.0" fill="#555"/>
<text x="500.9" y="250.9" font-size="4.1" fill="#333" stroke="#333" stroke-width="0.14">29.5</text>
<circle cx="496" cy="256.9" r="1.6" fill="#555"/>
<text x="500.9" y="258.3" font-size="4.1" fill="#333" stroke="#333" stroke-width="0.14">56</text>
<circle cx="496" cy="264.3" r="2.2" fill="#555"/>
<text x="500.9" y="265.7" font-size="4.1" fill="#333" stroke="#333" stroke-width="0.14">82.5</text>
<circle cx="496" cy="272.0" r="2.8" fill="#555"/>
<text x="500.9" y="273.4" font-size="4.1" fill="#333" stroke="#333" stroke-width="0.14">109</text>
<defs><linearGradient id="cg" x1="0" y1="0" x2="0" y2="1"><stop offset="0" stop-color="#FF0000"/><stop offset="0.25" stop-color="#FF8000"/><stop offset="0.5" stop-color="#FFFF00"/><stop offset="0.75" stop-color="#40B040"/><stop offset="1" stop-color="#1060FF"/></linearGradient></defs>
<text x="492.2" y="284.8" font-size="4.1" fill="#333" stroke="#333" stroke-width="0.14">-log<tspan font-size="2.6" dy="0.8">10</tspan><tspan dy="-0.8">(Qvalue)</tspan></text>
<rect x="492.1" y="288.9" width="3" height="23.9" fill="url(#cg)"/>
<text x="496" y="292.4" font-size="4.1" fill="#333" stroke="#333" stroke-width="0.14">2.7</text>
<text x="496" y="302.4" font-size="4.1" fill="#333" stroke="#333" stroke-width="0.14">1.7</text>
<text x="496" y="312.59999999999997" font-size="4.1" fill="#333" stroke="#333" stroke-width="0.14">0.7</text>
<text x="413" y="501.2" font-size="11.8" font-family="Liberation Serif, serif" text-anchor="middle" fill="#111" stroke="#111" stroke-width="0.3">(c)</text>
</svg></body></html>
